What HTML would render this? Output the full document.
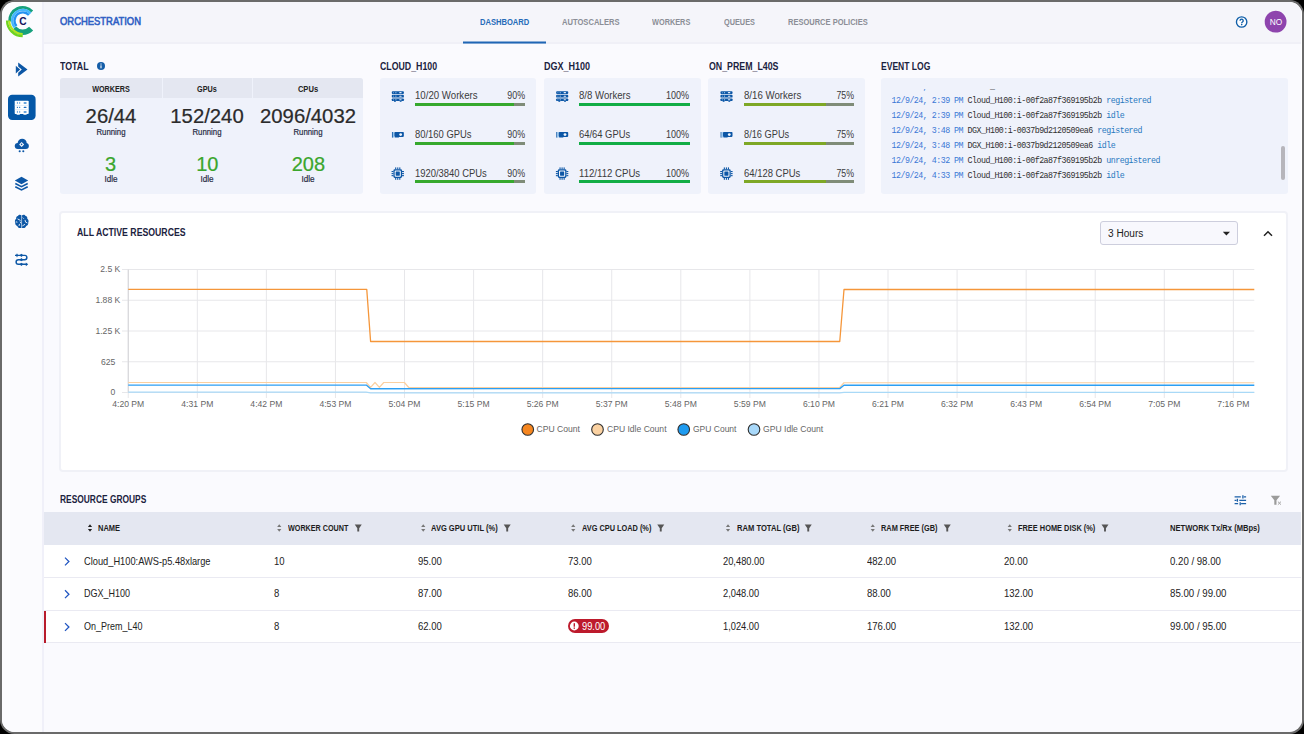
<!DOCTYPE html>
<html lang="en">
<head>
<meta charset="utf-8">
<title>Orchestration Dashboard</title>
<style>
*{box-sizing:border-box;margin:0;padding:0}
html,body{width:1304px;height:734px;overflow:hidden;background:#000;font-family:"Liberation Sans",sans-serif;}
#frame{position:absolute;left:0;top:0;width:1304px;height:734px;background:#6a6a6a;border-radius:14.3px;overflow:hidden}
#app{position:absolute;left:2px;top:2px;width:1300px;height:729.7px;background:#fafafe;border-radius:12.6px;overflow:hidden}
#page{position:absolute;left:-2px;top:-2px;width:1304px;height:734px}
.abs{position:absolute}
.t{position:absolute;white-space:pre;display:inline-block}
#sidebar{position:absolute;left:0;top:0;width:44px;height:734px;background:#fbfbfe;border-right:2px solid #f0f0f9}
#header{position:absolute;left:44px;top:0;width:1260px;height:44px;background:#f5f5fa;border-bottom:2px solid #f0f0f7}
#tabline{position:absolute;left:463px;top:41px;width:82.5px;height:3px;background:linear-gradient(rgba(31,102,181,.5) 0,rgba(31,102,181,.5) 1px,#1f66b5 1px,#1f66b5 2px,rgba(31,102,181,.55) 2px,rgba(31,102,181,.55) 3px)}
.panel{position:absolute;top:78px;height:115.5px;background:#eff2fb;border-radius:3px}
.ph{position:absolute;top:0;height:20px;background:#e4e7f1}
.bar{position:absolute;height:3px;width:110.5px;background:#7f8c78}
.bar i{position:absolute;left:0;top:0;height:3px;display:block}
#log{position:absolute;left:881px;top:78px;width:406.5px;height:115.5px;background:#eff2fb;border-radius:3px;overflow:hidden}
#logc{position:absolute;left:10.5px;top:10.5px;width:390px;height:100px;overflow:hidden;font-family:"Liberation Mono",monospace;font-size:8.3px;letter-spacing:-0.506px;line-height:14.95px;color:#2e2e2e}
#logi{position:absolute;left:0;top:-9px}
.ll{height:14.95px;white-space:pre}
.ld{color:#3a78d6}.ls{color:#2878be}.ln{color:#303030}
#card{position:absolute;left:59px;top:210.6px;width:1229.4px;height:261px;background:#fff;border:2px solid #f0f1f7;border-radius:4px}
#sel{position:absolute;left:1099.7px;top:220.8px;width:138.2px;height:24px;border:1px solid #cdcedd;border-radius:3px;background:#f8f8fd}
#thead{position:absolute;left:43.5px;top:512px;width:1260px;height:33px;background:#e4e7f1}
.tr{position:absolute;left:43.5px;width:1260px;background:#fff;border-bottom:1px solid #eaeaf2}
#badge{position:absolute;left:567.5px;top:619px;width:41px;height:14px;border-radius:7px;background:#bd1a2c}
svg{position:absolute;overflow:visible}
</style>
</head>
<body>
<div id="frame"><div id="app"><div id="page">

<div id="sidebar"></div>
<div id="header"></div>
<div id="tabline"></div>
<div class="abs" style="left:1301px;top:0;width:1px;height:734px;background:#fff;z-index:5"></div>

<!-- logo -->
<svg id="logo" style="left:0;top:0" width="44" height="44" viewBox="0 0 44 44">
 <g fill="none">
  <path d="M14.01 28.33 A11.7 11.7 0 0 0 31.12 28.63" stroke="#16a07c" stroke-width="5.6"/>
  <path d="M32.12 11.40 A13.1 13.1 0 0 0 9.65 21.64" stroke="#16a07c" stroke-width="2.9"/>
  <path d="M30.54 13.44 A10.55 10.55 0 0 0 14.86 27.56" stroke="#45b6fc" stroke-width="2.3"/>
  <path d="M28.87 14.95 A8.3 8.3 0 0 0 16.53 26.05" stroke="#2492f2" stroke-width="2.3"/>
  <path d="M9.20 20.50 A13.5 13.5 0 0 0 22.70 34.00" stroke="#b4e61e" stroke-width="2.2"/>
  <path d="M7.00 20.50 A15.7 15.7 0 0 0 22.70 36.20" stroke="#6fd320" stroke-width="2.2"/>
 </g>
</svg>

<!-- sidebar icons -->
<svg style="left:0;top:54px" width="44" height="220" viewBox="0 54 44 220">
 <g fill="#0d57a6">
  <path d="M15.8 65.8 L20.2 69.6 L15.8 73.4 Z"/>
  <path d="M18.2 62.6 L27.5 69.6 L18.2 76.6 V72.7 L21.8 69.6 L18.2 66.5 Z"/>
 </g>
 <rect x="8" y="94.8" width="27.6" height="25.1" rx="4.2" fill="#0457a7"/>
 <rect x="14.7" y="100.7" width="14" height="13.2" rx="0.7" fill="#fff"/>
 <g fill="#fff"><rect x="16.6" y="113.6" width="3.2" height="1.2" rx=".4"/><rect x="23.4" y="113.6" width="3.2" height="1.2" rx=".4"/></g>
 <g fill="#c9dcf0"><rect x="14.7" y="105" width="14" height="0.45"/><rect x="14.7" y="109.45" width="14" height="0.45"/></g>
 <g fill="#6aa5dc">
  <rect x="16.9" y="101.9" width="1" height="2"/><rect x="19.2" y="101.9" width="1" height="2"/><rect x="23.7" y="101.9" width="2.8" height="2" rx=".5"/>
  <rect x="16.9" y="110.9" width="1" height="2"/><rect x="19.2" y="110.9" width="1" height="2"/><rect x="23.7" y="110.9" width="2.8" height="2" rx=".5"/>
 </g>
 <g fill="#1f6fc0">
  <rect x="16.9" y="106.8" width="1" height="1.2"/><rect x="19.2" y="106.8" width="1" height="1.2"/><rect x="23.7" y="106.8" width="2.8" height="1.2" rx=".5"/>
 </g>
 <!-- cloud -->
 <g fill="#0d57a6">
  <circle cx="17.8" cy="146" r="3.05"/><circle cx="25.8" cy="146" r="3.05"/><circle cx="22.2" cy="143.3" r="4.55"/><rect x="17.8" y="144" width="8" height="5.05"/>
  <circle cx="19.7" cy="151.2" r="1.05"/><circle cx="23.3" cy="151.2" r="1.05"/>
 </g>
 <path d="M21.6 141.9 l2.5 2.5 l-2.5 2.5 l-2.5 -2.5 Z" fill="#fbfbfe"/>
 <circle cx="21.6" cy="144.4" r="0.8" fill="#0d57a6"/>
 <!-- layers -->
 <path d="M21.5 176.8 L28.2 180.5 L21.5 184.2 L14.8 180.5 Z" fill="#0d57a6"/>
 <g stroke="#0d57a6" stroke-width="1.55" fill="none"><path d="M15.3 183.5 L21.5 186.7 L27.7 183.5"/><path d="M15.3 186.8 L21.5 190 L27.7 186.8"/></g>
 <!-- brain -->
 <g fill="#0d57a6">
  <path id="bh" d="M21.45 215.3 C20.4 214.5 18.7 214.5 17.9 215.9 C16.6 216.1 15.9 217.4 16.2 218.7 C15 219.5 14.5 221.4 15.3 222.7 C14.9 224.2 15.9 225.7 17.3 226 C17.7 227.5 19.3 228.4 20.6 227.9 C20.9 228.1 21.2 228.1 21.45 228 Z"/>
  <use href="#bh" transform="translate(43.5 0) scale(-1 1)"/>
 </g>
 <g stroke="#f2f6fc" stroke-width="0.9" fill="none" stroke-linecap="round">
  <path d="M17.9 219.1 L20.2 220.3"/><path d="M16.2 221.9 L17 222.1"/><path d="M19.4 224.3 L19.1 225.6"/><path d="M20.3 222 L20.9 223"/>
  <path d="M23 217.9 L23.5 218.4"/><path d="M25.1 220.3 L25.6 222"/><path d="M22.7 225.7 L24.7 224.5"/><path d="M26.2 222.4 L27 222.8"/>
 </g>
 <!-- pipeline -->
 <path d="M15 255.35 H24.7 a2.18 2.18 0 0 1 0 4.36 H18.4 a2.3 2.3 0 0 0 0 4.6 H26.2" stroke="#0d57a6" stroke-width="1.45" fill="none"/>
 <g fill="#0d57a6">
  <path d="M17 253.3 l0.7 1.4 l1.4 0.65 l-1.4 0.65 l-0.7 1.4 l-0.7 -1.4 l-1.4 -0.65 l1.4 -0.65 Z"/>
  <path d="M21.4 253.7 l1.9 1.65 l-1.9 1.65 l-1.9 -1.65 Z"/>
  <path d="M21.4 258.05 l1.9 1.65 l-1.9 1.65 l-1.9 -1.65 Z"/>
  <path d="M21.4 262.65 l1.9 1.65 l-1.9 1.65 l-1.9 -1.65 Z"/>
  <path d="M25.8 262.4 L28.2 264.3 L25.8 266.2 Z"/>
 </g>
</svg>

<!-- help + avatar -->
<svg style="left:1230px;top:8px" width="60" height="28" viewBox="1230 8 60 28">
 <circle cx="1241.65" cy="22" r="5.2" fill="#fdfdff" stroke="#0f5ea8" stroke-width="1.35"/>
 <path d="M1240.1 20.75 a1.55 1.55 0 1 1 2.4 1.3 c-0.55 0.4 -0.8 0.65 -0.8 1.15" stroke="#0f5ea8" stroke-width="1.35" fill="none"/>
 <circle cx="1241.7" cy="24.6" r="0.8" fill="#0f5ea8"/>
 <circle cx="1275.6" cy="21.7" r="10.9" fill="#8e44ad"/>
</svg>

<!-- info icon -->
<svg style="left:96px;top:61px" width="10" height="10" viewBox="96 61 10 10">
 <circle cx="101" cy="66" r="4" fill="#145da8"/>
 <rect x="100.45" y="65.3" width="1.1" height="3" fill="#fff"/><rect x="100.45" y="63.5" width="1.1" height="1.1" fill="#fff"/>
</svg>

<!-- TOTAL panel -->
<div class="panel" style="left:60px;width:303.3px">
 <div class="ph" style="left:0;width:102px;border-radius:3px 0 0 0"></div>
 <div class="ph" style="left:103px;width:89px"></div>
 <div class="ph" style="left:193px;width:110.3px;border-radius:0 3px 0 0"></div>
</div>

<!-- group panels -->
<div class="panel" style="left:380px;width:156px">
 <div class="bar" style="left:35px;top:25px;width:110px"><i style="width:99px;background:#36a92d"></i></div>
 <div class="bar" style="left:35px;top:63.6px;width:110px"><i style="width:99px;background:#36a92d"></i></div>
 <div class="bar" style="left:35px;top:102.2px;width:110px"><i style="width:99px;background:#36a92d"></i></div>
</div>
<div class="panel" style="left:544px;width:156.5px">
 <div class="bar" style="left:35px;top:25px"><i style="width:110.5px;background:#12ad45"></i></div>
 <div class="bar" style="left:35px;top:63.6px"><i style="width:110.5px;background:#12ad45"></i></div>
 <div class="bar" style="left:35px;top:102.2px"><i style="width:110.5px;background:#12ad45"></i></div>
</div>
<div class="panel" style="left:708.3px;width:156.4px">
 <div class="bar" style="left:35.5px;top:25px"><i style="width:82.5px;background:#7ea826"></i></div>
 <div class="bar" style="left:35.5px;top:63.6px"><i style="width:82.5px;background:#7ea826"></i></div>
 <div class="bar" style="left:35.5px;top:102.2px"><i style="width:82.5px;background:#7ea826"></i></div>
</div>

<!-- group icons -->
<svg style="left:380px;top:78px" width="500" height="116" viewBox="380 78 500 116">
 <defs>
  <g id="isrv" fill="#0d57a6">
   <rect x="-6.05" y="-5" width="12.1" height="2.7" rx="0.9"/><rect x="-6.05" y="-1.45" width="12.1" height="2.7" rx="0.9"/><rect x="-6.05" y="2.1" width="12.1" height="2.7" rx="0.9"/>
   <rect x="-3.8" y="4.6" width="1.8" height="0.9"/><rect x="1.9" y="4.6" width="1.8" height="0.9"/>
   <g fill="#8fbbe6"><rect x="-4.55" y="-4.3" width=".6" height="1.3"/><rect x="-4.55" y="-0.75" width=".6" height="1.3"/><rect x="-4.55" y="2.8" width=".6" height="1.3"/>
   <rect x="-2.45" y="-4.3" width="1" height="1.3"/><rect x="-2.45" y="-0.75" width="1" height="1.3"/><rect x="-2.45" y="2.8" width="1" height="1.3"/></g>
   <g fill="#e3ecf9"><rect x="1.4" y="-4.2" width="2.4" height="1.1" rx=".5"/><rect x="1.4" y="-0.65" width="2.4" height="1.1" rx=".5"/><rect x="1.4" y="2.9" width="2.4" height="1.1" rx=".5"/></g>
  </g>
  <g id="igpu" fill="#0d57a6">
   <rect x="-5.9" y="-2.7" width="0.95" height="5.6"/><rect x="-4.95" y="-2.6" width="1.3" height="5.4" fill="#8fc4ee"/>
   <rect x="-3.5" y="-2.7" width="9.5" height="4.9" rx="0.8"/><rect x="-3.1" y="1.6" width="4.2" height="1.3" rx=".4"/>
   <circle cx="2.8" cy="-0.15" r="1.4" fill="#f2f7fd"/>
  </g>
  <g id="icpu" fill="#0d57a6">
   <rect x="-4.3" y="-4.3" width="8.6" height="8.6" rx="1.3"/>
   <rect x="-3.1" y="-3.1" width="6.2" height="6.2" rx="0.9" fill="#eef4fc"/>
   <rect x="-2.05" y="-2.05" width="4.1" height="4.1" rx=".4" fill="#0d57a6"/>
   <g>
    <rect x="-2.6" y="-6.2" width="1.1" height="2"/><rect x="-0.55" y="-6.2" width="1.1" height="2"/><rect x="1.5" y="-6.2" width="1.1" height="2"/>
    <rect x="-2.6" y="4.2" width="1.1" height="2"/><rect x="-0.55" y="4.2" width="1.1" height="2"/><rect x="1.5" y="4.2" width="1.1" height="2"/>
    <rect x="-6.2" y="-2.6" width="2" height="1.1"/><rect x="-6.2" y="-0.55" width="2" height="1.1"/><rect x="-6.2" y="1.5" width="2" height="1.1"/>
    <rect x="4.2" y="-2.6" width="2" height="1.1"/><rect x="4.2" y="-0.55" width="2" height="1.1"/><rect x="4.2" y="1.5" width="2" height="1.1"/>
   </g>
  </g>
 </defs>
 <use href="#isrv" x="397.85" y="96.3"/><use href="#igpu" x="397.85" y="134.7"/><use href="#icpu" x="397.75" y="173.6"/>
 <use href="#isrv" x="562.2" y="96.3"/><use href="#igpu" x="562.2" y="134.7"/><use href="#icpu" x="562.1" y="173.6"/>
 <use href="#isrv" x="726.5" y="96.3"/><use href="#igpu" x="726.5" y="134.7"/><use href="#icpu" x="726.4" y="173.6"/>
</svg>

<!-- event log -->
<div id="log"><div id="logc"><div id="logi">
<div class="ll"><span class="ld">12/9/24, 2:38 PM</span> <span class="ln">Cloud_H100:i-00f2a87f369195b2b</span> <span class="ls">idle</span></div><div class="ll"><span class="ld">12/9/24, 2:39 PM</span> <span class="ln">Cloud_H100:i-00f2a87f369195b2b</span> <span class="ls">registered</span></div><div class="ll"><span class="ld">12/9/24, 2:39 PM</span> <span class="ln">Cloud_H100:i-00f2a87f369195b2b</span> <span class="ls">idle</span></div><div class="ll"><span class="ld">12/9/24, 3:48 PM</span> <span class="ln">DGX_H100:i-0037b9d2120509ea6</span> <span class="ls">registered</span></div><div class="ll"><span class="ld">12/9/24, 3:48 PM</span> <span class="ln">DGX_H100:i-0037b9d2120509ea6</span> <span class="ls">idle</span></div><div class="ll"><span class="ld">12/9/24, 4:32 PM</span> <span class="ln">Cloud_H100:i-00f2a87f369195b2b</span> <span class="ls">unregistered</span></div><div class="ll"><span class="ld">12/9/24, 4:33 PM</span> <span class="ln">Cloud_H100:i-00f2a87f369195b2b</span> <span class="ls">idle</span></div></div></div>
<div class="abs" style="left:399.8px;top:67.8px;width:4.4px;height:34.3px;border-radius:2.2px;background:#b6b5bb"></div>
</div>

<!-- chart card -->
<div id="card"></div>
<div id="sel"></div>
<svg style="left:0;top:212px" width="1304" height="260" viewBox="0 212 1304 260">
 <path d="M1222.8 231.8 h7.2 l-3.6 3.7 Z" fill="#222"/>
 <path d="M1264 235.8 l4 -4 l4 4" stroke="#222" stroke-width="1.5" fill="none"/>
 <g stroke="#e7e7ea" stroke-width="1" fill="none">
<path d="M122 269.5 H1254.3"/>
<path d="M122 300.25 H1254.3"/>
<path d="M122 331 H1254.3"/>
<path d="M122 361.75 H1254.3"/>
<path d="M122 392.5 H1254.3"/>
<path d="M128.25 269.5 V398"/>
<path d="M197.32 269.5 V398"/>
<path d="M266.39 269.5 V398"/>
<path d="M335.46 269.5 V398"/>
<path d="M404.53 269.5 V398"/>
<path d="M473.60 269.5 V398"/>
<path d="M542.67 269.5 V398"/>
<path d="M611.74 269.5 V398"/>
<path d="M680.81 269.5 V398"/>
<path d="M749.88 269.5 V398"/>
<path d="M818.95 269.5 V398"/>
<path d="M888.02 269.5 V398"/>
<path d="M957.09 269.5 V398"/>
<path d="M1026.16 269.5 V398"/>
<path d="M1095.23 269.5 V398"/>
<path d="M1164.30 269.5 V398"/>
<path d="M1233.37 269.5 V398"/>
</g>
<path d="M128.25 269.5 V392.5" stroke="#d4d4d8" stroke-width="1" fill="none"/>
<path d="M128.25 392.1 L366 392.1 L370.6 392.9 L839.75 392.9 L844 392.4 L1254.3 392.4" stroke="#a9d9f7" stroke-width="1.2" fill="none" stroke-linejoin="round"/>
<path d="M128.25 289.3 L366.75 289.3 L370.6 341.5 L839.75 341.5 L844 289.5 L1254.3 289.5" stroke="#f5963a" stroke-width="1.3" fill="none" stroke-linejoin="round"/>
<path d="M128.25 382.5 L366.3 382.5 L370.6 387.3 L375 382.5 L379.4 387.3 L383.75 382.5 L404.4 382.5 L408.75 387.5 L839.75 387.5 L844 382.75 L1254.3 382.75" stroke="#fbd0a0" stroke-width="1.2" fill="none" stroke-linejoin="round"/>
<path d="M128.25 385.1 L366.3 385.1 L370.6 388.7 L839.75 388.6 L844 385.25 L1254.3 385.25" stroke="#2c9ff3" stroke-width="1.35" fill="none" stroke-linejoin="round"/>
<circle cx="527.75" cy="429.5" r="5.8" fill="#f6861f" stroke="#2e2e2e" stroke-width="1.1"/>
<circle cx="597.5" cy="429.5" r="5.8" fill="#fbd2a2" stroke="#2e2e2e" stroke-width="1.1"/>
<circle cx="683.75" cy="429.5" r="5.8" fill="#1e9bf0" stroke="#2e2e2e" stroke-width="1.1"/>
<circle cx="754" cy="429.5" r="5.8" fill="#a8d8f9" stroke="#2e2e2e" stroke-width="1.1"/>
</svg>

<!-- table -->
<div id="thead"></div>
<div class="tr" style="top:545px;height:33px"></div>
<div class="tr" style="top:578px;height:32.75px"></div>
<div class="tr" style="top:610.75px;height:32.5px"></div>
<div class="abs" style="left:43.5px;top:610.5px;width:2px;height:32.3px;background:#b81c2c"></div>
<div id="badge"></div>
<svg style="left:43px;top:490px" width="1261" height="160" viewBox="43 490 1261 160">
 <path d="M87.9 527 H92.1 L90 524.2 Z M87.9 529 H92.1 L90 531.8 Z" fill="#222"/>
<path d="M277.15 527 H281.35 L279.25 524.2 Z M277.15 529 H281.35 L279.25 531.8 Z" fill="#777"/>
<path d="M421.15 527 H425.35 L423.25 524.2 Z M421.15 529 H425.35 L423.25 531.8 Z" fill="#777"/>
<path d="M571.15 527 H575.35 L573.25 524.2 Z M571.15 529 H575.35 L573.25 531.8 Z" fill="#777"/>
<path d="M725.9 527 H730.1 L728 524.2 Z M725.9 529 H730.1 L728 531.8 Z" fill="#777"/>
<path d="M870.65 527 H874.85 L872.75 524.2 Z M870.65 529 H874.85 L872.75 531.8 Z" fill="#777"/>
<path d="M1007.65 527 H1011.85 L1009.75 524.2 Z M1007.65 529 H1011.85 L1009.75 531.8 Z" fill="#777"/>
<path d="M354.75 524.6 H361.75 L359.2 528.2 V531.6 H357.3 V528.2 Z" fill="#555"/>
<path d="M503.7 524.6 H510.7 L508.15 528.2 V531.6 H506.25 V528.2 Z" fill="#555"/>
<path d="M657.25 524.6 H664.25 L661.7 528.2 V531.6 H659.8 V528.2 Z" fill="#555"/>
<path d="M804.75 524.6 H811.75 L809.2 528.2 V531.6 H807.3 V528.2 Z" fill="#555"/>
<path d="M943.75 524.6 H950.75 L948.2 528.2 V531.6 H946.3 V528.2 Z" fill="#555"/>
<path d="M1101.5 524.6 H1108.5 L1105.95 528.2 V531.6 H1104.05 V528.2 Z" fill="#555"/>
<path d="M65 557.6 L68.9 561.5 L65 565.4" stroke="#2458c2" stroke-width="1.3" fill="none"/>
<path d="M65 590.3000000000001 L68.9 594.2 L65 598.1" stroke="#2458c2" stroke-width="1.3" fill="none"/>
<path d="M65 623.1 L68.9 627 L65 630.9" stroke="#2458c2" stroke-width="1.3" fill="none"/>
<g stroke="#1a5fa8" stroke-width="1.3" fill="none"><path d="M1234.6 496.9 H1240.8 M1243.9 496.9 H1246.1 M1242.9 495.3 V498.4"/><path d="M1234.6 500.3 H1236.4 M1239.3 500.3 H1246.1 M1237.4 498.8 V501.8"/><path d="M1234.6 503.7 H1238.1 M1241.1 503.7 H1246.1 M1240.2 502.2 V505.2"/></g>
<path d="M1270.8 495.7 H1280.1 L1276.5 500.3 V504.7 H1274.3 V500.3 Z" fill="#9b9b9b"/>
<path d="M1277.9 501.6 l3.1 3.1 M1281 501.6 l-3.1 3.1" stroke="#9b9b9b" stroke-width="0.9"/>
<circle cx="574.3" cy="626" r="4.4" fill="#fff"/>
<rect x="573.6" y="623.2" width="1.4" height="3.5" fill="#bd1a2c"/><rect x="573.6" y="627.5" width="1.4" height="1.3" fill="#bd1a2c"/>
</svg>

<span class="t" style="font-size:11px;font-weight:400;color:#2f5fc4;line-height:11px;-webkit-text-stroke:0.6px #2f5fc4;top:16px;left:60.00px;transform-origin:0 50%;transform:scaleX(0.8568);">ORCHESTRATION</span>
<span class="t" style="font-size:9.5px;font-weight:700;color:#256bb8;line-height:9.5px;top:17px;left:479.80px;transform-origin:0 50%;transform:scaleX(0.7984);">DASHBOARD</span>
<span class="t" style="font-size:9.5px;font-weight:700;color:#8b8e96;line-height:9.5px;top:17px;left:562.00px;transform-origin:0 50%;transform:scaleX(0.7986);">AUTOSCALERS</span>
<span class="t" style="font-size:9.5px;font-weight:700;color:#8b8e96;line-height:9.5px;top:17px;left:652.40px;transform-origin:0 50%;transform:scaleX(0.7720);">WORKERS</span>
<span class="t" style="font-size:9.5px;font-weight:700;color:#8b8e96;line-height:9.5px;top:17px;left:724.00px;transform-origin:0 50%;transform:scaleX(0.7700);">QUEUES</span>
<span class="t" style="font-size:9.5px;font-weight:700;color:#8b8e96;line-height:9.5px;top:17px;left:787.70px;transform-origin:0 50%;transform:scaleX(0.7901);">RESOURCE POLICIES</span>
<span class="t" style="font-size:8.5px;font-weight:400;color:#fff;line-height:8.5px;top:18px;left:1275.70px;transform-origin:50% 50%;transform:translateX(-50%) scaleX(0.9769);">NO</span>
<span class="t" style="font-size:10.5px;font-weight:700;color:#12125c;line-height:10.5px;top:16px;left:22.80px;transform-origin:50% 50%;transform:translateX(-50%) scaleX(0.9700);">C</span>
<span class="t" style="font-size:10px;font-weight:700;color:#1b2240;line-height:10px;top:62px;left:60.00px;transform-origin:0 50%;transform:scaleX(0.8812);">TOTAL</span>
<span class="t" style="font-size:10px;font-weight:700;color:#1b2240;line-height:10px;top:62px;left:380.00px;transform-origin:0 50%;transform:scaleX(0.8769);">CLOUD_H100</span>
<span class="t" style="font-size:10px;font-weight:700;color:#1b2240;line-height:10px;top:62px;left:544.00px;transform-origin:0 50%;transform:scaleX(0.9020);">DGX_H100</span>
<span class="t" style="font-size:10px;font-weight:700;color:#1b2240;line-height:10px;top:62px;left:709.00px;transform-origin:0 50%;transform:scaleX(0.8797);">ON_PREM_L40S</span>
<span class="t" style="font-size:10px;font-weight:700;color:#1b2240;line-height:10px;top:62px;left:881.00px;transform-origin:0 50%;transform:scaleX(0.8534);">EVENT LOG</span>
<span class="t" style="font-size:10px;font-weight:700;color:#1b2240;line-height:10px;top:228px;left:77.00px;transform-origin:0 50%;transform:scaleX(0.8726);">ALL ACTIVE RESOURCES</span>
<span class="t" style="font-size:10px;font-weight:700;color:#1b2240;line-height:10px;top:495px;left:60.00px;transform-origin:0 50%;transform:scaleX(0.8398);">RESOURCE GROUPS</span>
<span class="t" style="font-size:9px;font-weight:700;color:#222;line-height:9px;top:85px;left:110.60px;transform-origin:50% 50%;transform:translateX(-50%) scaleX(0.8021);">WORKERS</span>
<span class="t" style="font-size:9px;font-weight:700;color:#222;line-height:9px;top:85px;left:207.30px;transform-origin:50% 50%;transform:translateX(-50%) scaleX(0.8080);">GPUs</span>
<span class="t" style="font-size:9px;font-weight:700;color:#222;line-height:9px;top:85px;left:308.40px;transform-origin:50% 50%;transform:translateX(-50%) scaleX(0.8417);">CPUs</span>
<span class="t" style="font-size:20px;font-weight:400;color:#2b2b2b;line-height:20px;-webkit-text-stroke:0.22px #2b2b2b;top:106px;left:110.60px;transform-origin:50% 50%;transform:translateX(-50%) scaleX(1.0150);">26/44</span>
<span class="t" style="font-size:20px;font-weight:400;color:#2b2b2b;line-height:20px;-webkit-text-stroke:0.22px #2b2b2b;top:106px;left:207.30px;transform-origin:50% 50%;transform:translateX(-50%) scaleX(1.0150);">152/240</span>
<span class="t" style="font-size:20px;font-weight:400;color:#2b2b2b;line-height:20px;-webkit-text-stroke:0.22px #2b2b2b;top:106px;left:308.40px;transform-origin:50% 50%;transform:translateX(-50%) scaleX(1.0150);">2096/4032</span>
<span class="t" style="font-size:9px;font-weight:400;color:#262b42;line-height:9px;-webkit-text-stroke:0.2px #262b42;top:128px;left:110.60px;transform-origin:50% 50%;transform:translateX(-50%) scaleX(0.8676);">Running</span>
<span class="t" style="font-size:9px;font-weight:400;color:#262b42;line-height:9px;-webkit-text-stroke:0.2px #262b42;top:175px;left:110.60px;transform-origin:50% 50%;transform:translateX(-50%) scaleX(0.9000);">Idle</span>
<span class="t" style="font-size:9px;font-weight:400;color:#262b42;line-height:9px;-webkit-text-stroke:0.2px #262b42;top:128px;left:207.30px;transform-origin:50% 50%;transform:translateX(-50%) scaleX(0.8676);">Running</span>
<span class="t" style="font-size:9px;font-weight:400;color:#262b42;line-height:9px;-webkit-text-stroke:0.2px #262b42;top:175px;left:207.30px;transform-origin:50% 50%;transform:translateX(-50%) scaleX(0.9000);">Idle</span>
<span class="t" style="font-size:9px;font-weight:400;color:#262b42;line-height:9px;-webkit-text-stroke:0.2px #262b42;top:128px;left:308.40px;transform-origin:50% 50%;transform:translateX(-50%) scaleX(0.8676);">Running</span>
<span class="t" style="font-size:9px;font-weight:400;color:#262b42;line-height:9px;-webkit-text-stroke:0.2px #262b42;top:175px;left:308.40px;transform-origin:50% 50%;transform:translateX(-50%) scaleX(0.9000);">Idle</span>
<span class="t" style="font-size:20px;font-weight:400;color:#3aa62c;line-height:20px;-webkit-text-stroke:0.22px #3aa62c;top:154px;left:110.60px;transform-origin:50% 50%;transform:translateX(-50%) scaleX(1.0000);">3</span>
<span class="t" style="font-size:20px;font-weight:400;color:#3aa62c;line-height:20px;-webkit-text-stroke:0.22px #3aa62c;top:154px;left:207.30px;transform-origin:50% 50%;transform:translateX(-50%) scaleX(1.0000);">10</span>
<span class="t" style="font-size:20px;font-weight:400;color:#3aa62c;line-height:20px;-webkit-text-stroke:0.22px #3aa62c;top:154px;left:308.40px;transform-origin:50% 50%;transform:translateX(-50%) scaleX(1.0000);">208</span>
<span class="t" style="font-size:11px;font-weight:400;color:#3b3b3b;line-height:11px;top:90px;left:415.20px;transform-origin:0 50%;transform:scaleX(0.8775);">10/20 Workers</span>
<span class="t" style="font-size:11px;font-weight:400;color:#3b3b3b;line-height:11px;top:90px;right:779.00px;transform-origin:100% 50%;transform:scaleX(0.8068);">90%</span>
<span class="t" style="font-size:11px;font-weight:400;color:#3b3b3b;line-height:11px;top:129px;left:415.20px;transform-origin:0 50%;transform:scaleX(0.8561);">80/160 GPUs</span>
<span class="t" style="font-size:11px;font-weight:400;color:#3b3b3b;line-height:11px;top:129px;right:779.00px;transform-origin:100% 50%;transform:scaleX(0.8068);">90%</span>
<span class="t" style="font-size:11px;font-weight:400;color:#3b3b3b;line-height:11px;top:168px;left:415.20px;transform-origin:0 50%;transform:scaleX(0.8571);">1920/3840 CPUs</span>
<span class="t" style="font-size:11px;font-weight:400;color:#3b3b3b;line-height:11px;top:168px;right:779.00px;transform-origin:100% 50%;transform:scaleX(0.8068);">90%</span>
<span class="t" style="font-size:11px;font-weight:400;color:#3b3b3b;line-height:11px;top:90px;left:579.20px;transform-origin:0 50%;transform:scaleX(0.8729);">8/8 Workers</span>
<span class="t" style="font-size:11px;font-weight:400;color:#3b3b3b;line-height:11px;top:90px;right:615.00px;transform-origin:100% 50%;transform:scaleX(0.8214);">100%</span>
<span class="t" style="font-size:11px;font-weight:400;color:#3b3b3b;line-height:11px;top:129px;left:579.20px;transform-origin:0 50%;transform:scaleX(0.8542);">64/64 GPUs</span>
<span class="t" style="font-size:11px;font-weight:400;color:#3b3b3b;line-height:11px;top:129px;right:615.00px;transform-origin:100% 50%;transform:scaleX(0.8214);">100%</span>
<span class="t" style="font-size:11px;font-weight:400;color:#3b3b3b;line-height:11px;top:168px;left:579.20px;transform-origin:0 50%;transform:scaleX(0.8750);">112/112 CPUs</span>
<span class="t" style="font-size:11px;font-weight:400;color:#3b3b3b;line-height:11px;top:168px;right:615.00px;transform-origin:100% 50%;transform:scaleX(0.8214);">100%</span>
<span class="t" style="font-size:11px;font-weight:400;color:#3b3b3b;line-height:11px;top:90px;left:743.80px;transform-origin:0 50%;transform:scaleX(0.8785);">8/16 Workers</span>
<span class="t" style="font-size:11px;font-weight:400;color:#3b3b3b;line-height:11px;top:90px;right:450.40px;transform-origin:100% 50%;transform:scaleX(0.8000);">75%</span>
<span class="t" style="font-size:11px;font-weight:400;color:#3b3b3b;line-height:11px;top:129px;left:743.80px;transform-origin:0 50%;transform:scaleX(0.8407);">8/16 GPUs</span>
<span class="t" style="font-size:11px;font-weight:400;color:#3b3b3b;line-height:11px;top:129px;right:450.40px;transform-origin:100% 50%;transform:scaleX(0.8000);">75%</span>
<span class="t" style="font-size:11px;font-weight:400;color:#3b3b3b;line-height:11px;top:168px;left:743.80px;transform-origin:0 50%;transform:scaleX(0.8600);">64/128 CPUs</span>
<span class="t" style="font-size:11px;font-weight:400;color:#3b3b3b;line-height:11px;top:168px;right:450.40px;transform-origin:100% 50%;transform:scaleX(0.8000);">75%</span>
<span class="t" style="font-size:8.6px;font-weight:400;color:#666;line-height:8.6px;top:265px;right:1183.70px;transform-origin:100% 50%;transform:scaleX(1.0000);">2.5 K</span>
<span class="t" style="font-size:8.6px;font-weight:400;color:#666;line-height:8.6px;top:296px;right:1183.70px;transform-origin:100% 50%;transform:scaleX(1.0000);">1.88 K</span>
<span class="t" style="font-size:8.6px;font-weight:400;color:#666;line-height:8.6px;top:327px;right:1183.70px;transform-origin:100% 50%;transform:scaleX(1.0000);">1.25 K</span>
<span class="t" style="font-size:8.6px;font-weight:400;color:#666;line-height:8.6px;top:358px;right:1188.70px;transform-origin:100% 50%;transform:scaleX(1.0000);">625</span>
<span class="t" style="font-size:8.6px;font-weight:400;color:#666;line-height:8.6px;top:388px;right:1188.70px;transform-origin:100% 50%;transform:scaleX(1.0000);">0</span>
<span class="t" style="font-size:8.6px;font-weight:400;color:#666;line-height:8.6px;top:400px;left:128.25px;transform-origin:50% 50%;transform:translateX(-50%) scaleX(1.0000);">4:20 PM</span>
<span class="t" style="font-size:8.6px;font-weight:400;color:#666;line-height:8.6px;top:400px;left:197.32px;transform-origin:50% 50%;transform:translateX(-50%) scaleX(1.0000);">4:31 PM</span>
<span class="t" style="font-size:8.6px;font-weight:400;color:#666;line-height:8.6px;top:400px;left:266.39px;transform-origin:50% 50%;transform:translateX(-50%) scaleX(1.0000);">4:42 PM</span>
<span class="t" style="font-size:8.6px;font-weight:400;color:#666;line-height:8.6px;top:400px;left:335.46px;transform-origin:50% 50%;transform:translateX(-50%) scaleX(1.0000);">4:53 PM</span>
<span class="t" style="font-size:8.6px;font-weight:400;color:#666;line-height:8.6px;top:400px;left:404.53px;transform-origin:50% 50%;transform:translateX(-50%) scaleX(1.0000);">5:04 PM</span>
<span class="t" style="font-size:8.6px;font-weight:400;color:#666;line-height:8.6px;top:400px;left:473.60px;transform-origin:50% 50%;transform:translateX(-50%) scaleX(1.0000);">5:15 PM</span>
<span class="t" style="font-size:8.6px;font-weight:400;color:#666;line-height:8.6px;top:400px;left:542.67px;transform-origin:50% 50%;transform:translateX(-50%) scaleX(1.0000);">5:26 PM</span>
<span class="t" style="font-size:8.6px;font-weight:400;color:#666;line-height:8.6px;top:400px;left:611.74px;transform-origin:50% 50%;transform:translateX(-50%) scaleX(1.0000);">5:37 PM</span>
<span class="t" style="font-size:8.6px;font-weight:400;color:#666;line-height:8.6px;top:400px;left:680.81px;transform-origin:50% 50%;transform:translateX(-50%) scaleX(1.0000);">5:48 PM</span>
<span class="t" style="font-size:8.6px;font-weight:400;color:#666;line-height:8.6px;top:400px;left:749.88px;transform-origin:50% 50%;transform:translateX(-50%) scaleX(1.0000);">5:59 PM</span>
<span class="t" style="font-size:8.6px;font-weight:400;color:#666;line-height:8.6px;top:400px;left:818.95px;transform-origin:50% 50%;transform:translateX(-50%) scaleX(1.0000);">6:10 PM</span>
<span class="t" style="font-size:8.6px;font-weight:400;color:#666;line-height:8.6px;top:400px;left:888.02px;transform-origin:50% 50%;transform:translateX(-50%) scaleX(1.0000);">6:21 PM</span>
<span class="t" style="font-size:8.6px;font-weight:400;color:#666;line-height:8.6px;top:400px;left:957.09px;transform-origin:50% 50%;transform:translateX(-50%) scaleX(1.0000);">6:32 PM</span>
<span class="t" style="font-size:8.6px;font-weight:400;color:#666;line-height:8.6px;top:400px;left:1026.16px;transform-origin:50% 50%;transform:translateX(-50%) scaleX(1.0000);">6:43 PM</span>
<span class="t" style="font-size:8.6px;font-weight:400;color:#666;line-height:8.6px;top:400px;left:1095.23px;transform-origin:50% 50%;transform:translateX(-50%) scaleX(1.0000);">6:54 PM</span>
<span class="t" style="font-size:8.6px;font-weight:400;color:#666;line-height:8.6px;top:400px;left:1164.30px;transform-origin:50% 50%;transform:translateX(-50%) scaleX(1.0000);">7:05 PM</span>
<span class="t" style="font-size:8.6px;font-weight:400;color:#666;line-height:8.6px;top:400px;left:1233.37px;transform-origin:50% 50%;transform:translateX(-50%) scaleX(1.0000);">7:16 PM</span>
<span class="t" style="font-size:8.6px;font-weight:400;color:#666;line-height:8.6px;top:425px;left:536.50px;transform-origin:0 50%;transform:scaleX(1.0000);">CPU Count</span>
<span class="t" style="font-size:8.6px;font-weight:400;color:#666;line-height:8.6px;top:425px;left:606.50px;transform-origin:0 50%;transform:scaleX(0.9967);">CPU Idle Count</span>
<span class="t" style="font-size:8.6px;font-weight:400;color:#666;line-height:8.6px;top:425px;left:692.80px;transform-origin:0 50%;transform:scaleX(0.9886);">GPU Count</span>
<span class="t" style="font-size:8.6px;font-weight:400;color:#666;line-height:8.6px;top:425px;left:763.00px;transform-origin:0 50%;transform:scaleX(1.0000);">GPU Idle Count</span>
<span class="t" style="font-size:10px;font-weight:400;color:#222;line-height:10px;top:229px;left:1107.50px;transform-origin:0 50%;transform:scaleX(1.0086);">3 Hours</span>
<span class="t" style="font-size:9px;font-weight:700;color:#1d1d1d;line-height:9px;top:524px;left:98.00px;transform-origin:0 50%;transform:scaleX(0.8333);">NAME</span>
<span class="t" style="font-size:9px;font-weight:700;color:#1d1d1d;line-height:9px;top:524px;left:287.80px;transform-origin:0 50%;transform:scaleX(0.8000);">WORKER COUNT</span>
<span class="t" style="font-size:9px;font-weight:700;color:#1d1d1d;line-height:9px;top:524px;left:431.00px;transform-origin:0 50%;transform:scaleX(0.8375);">AVG GPU UTIL (%)</span>
<span class="t" style="font-size:9px;font-weight:700;color:#1d1d1d;line-height:9px;top:524px;left:581.80px;transform-origin:0 50%;transform:scaleX(0.8176);">AVG CPU LOAD (%)</span>
<span class="t" style="font-size:9px;font-weight:700;color:#1d1d1d;line-height:9px;top:524px;left:736.50px;transform-origin:0 50%;transform:scaleX(0.8446);">RAM TOTAL (GB)</span>
<span class="t" style="font-size:9px;font-weight:700;color:#1d1d1d;line-height:9px;top:524px;left:881.00px;transform-origin:0 50%;transform:scaleX(0.8188);">RAM FREE (GB)</span>
<span class="t" style="font-size:9px;font-weight:700;color:#1d1d1d;line-height:9px;top:524px;left:1018.00px;transform-origin:0 50%;transform:scaleX(0.8223);">FREE HOME DISK (%)</span>
<span class="t" style="font-size:9px;font-weight:700;color:#1d1d1d;line-height:9px;top:524px;left:1169.80px;transform-origin:0 50%;transform:scaleX(0.8439);">NETWORK Tx/Rx (MBps)</span>
<span class="t" style="font-size:11px;font-weight:400;color:#222;line-height:11px;top:556px;left:84.25px;transform-origin:0 50%;transform:scaleX(0.8433);">Cloud_H100:AWS-p5.48xlarge</span>
<span class="t" style="font-size:11px;font-weight:400;color:#222;line-height:11px;top:556px;left:274.25px;transform-origin:0 50%;transform:scaleX(0.8650);">10</span>
<span class="t" style="font-size:11px;font-weight:400;color:#222;line-height:11px;top:556px;left:417.50px;transform-origin:0 50%;transform:scaleX(0.8650);">95.00</span>
<span class="t" style="font-size:11px;font-weight:400;color:#222;line-height:11px;top:556px;left:568.00px;transform-origin:0 50%;transform:scaleX(0.8650);">73.00</span>
<span class="t" style="font-size:11px;font-weight:400;color:#222;line-height:11px;top:556px;left:723.00px;transform-origin:0 50%;transform:scaleX(0.8469);">20,480.00</span>
<span class="t" style="font-size:11px;font-weight:400;color:#222;line-height:11px;top:556px;left:867.00px;transform-origin:0 50%;transform:scaleX(0.8650);">482.00</span>
<span class="t" style="font-size:11px;font-weight:400;color:#222;line-height:11px;top:556px;left:1004.25px;transform-origin:0 50%;transform:scaleX(0.8650);">20.00</span>
<span class="t" style="font-size:11px;font-weight:400;color:#222;line-height:11px;top:556px;left:1169.75px;transform-origin:0 50%;transform:scaleX(0.8750);">0.20 / 98.00</span>
<span class="t" style="font-size:11px;font-weight:400;color:#222;line-height:11px;top:588px;left:84.25px;transform-origin:0 50%;transform:scaleX(0.8170);">DGX_H100</span>
<span class="t" style="font-size:11px;font-weight:400;color:#222;line-height:11px;top:588px;left:274.25px;transform-origin:0 50%;transform:scaleX(0.8650);">8</span>
<span class="t" style="font-size:11px;font-weight:400;color:#222;line-height:11px;top:588px;left:417.50px;transform-origin:0 50%;transform:scaleX(0.8650);">87.00</span>
<span class="t" style="font-size:11px;font-weight:400;color:#222;line-height:11px;top:588px;left:568.00px;transform-origin:0 50%;transform:scaleX(0.8650);">86.00</span>
<span class="t" style="font-size:11px;font-weight:400;color:#222;line-height:11px;top:588px;left:723.00px;transform-origin:0 50%;transform:scaleX(0.8430);">2,048.00</span>
<span class="t" style="font-size:11px;font-weight:400;color:#222;line-height:11px;top:588px;left:867.00px;transform-origin:0 50%;transform:scaleX(0.8650);">88.00</span>
<span class="t" style="font-size:11px;font-weight:400;color:#222;line-height:11px;top:588px;left:1004.25px;transform-origin:0 50%;transform:scaleX(0.8650);">132.00</span>
<span class="t" style="font-size:11px;font-weight:400;color:#222;line-height:11px;top:588px;left:1169.75px;transform-origin:0 50%;transform:scaleX(0.8789);">85.00 / 99.00</span>
<span class="t" style="font-size:11px;font-weight:400;color:#222;line-height:11px;top:621px;left:84.25px;transform-origin:0 50%;transform:scaleX(0.8160);">On_Prem_L40</span>
<span class="t" style="font-size:11px;font-weight:400;color:#222;line-height:11px;top:621px;left:274.25px;transform-origin:0 50%;transform:scaleX(0.8650);">8</span>
<span class="t" style="font-size:11px;font-weight:400;color:#222;line-height:11px;top:621px;left:417.50px;transform-origin:0 50%;transform:scaleX(0.8650);">62.00</span>
<span class="t" style="font-size:11px;font-weight:400;color:#222;line-height:11px;top:621px;left:723.00px;transform-origin:0 50%;transform:scaleX(0.8430);">1,024.00</span>
<span class="t" style="font-size:11px;font-weight:400;color:#222;line-height:11px;top:621px;left:867.00px;transform-origin:0 50%;transform:scaleX(0.8650);">176.00</span>
<span class="t" style="font-size:11px;font-weight:400;color:#222;line-height:11px;top:621px;left:1004.25px;transform-origin:0 50%;transform:scaleX(0.8650);">132.00</span>
<span class="t" style="font-size:11px;font-weight:400;color:#222;line-height:11px;top:621px;left:1169.75px;transform-origin:0 50%;transform:scaleX(0.8789);">99.00 / 95.00</span>
<span class="t" style="font-size:10.5px;font-weight:400;color:#fff;line-height:10.5px;top:621px;left:582.00px;transform-origin:0 50%;transform:scaleX(0.8846);">99.00</span>
</div></div></div>
</body>
</html>
